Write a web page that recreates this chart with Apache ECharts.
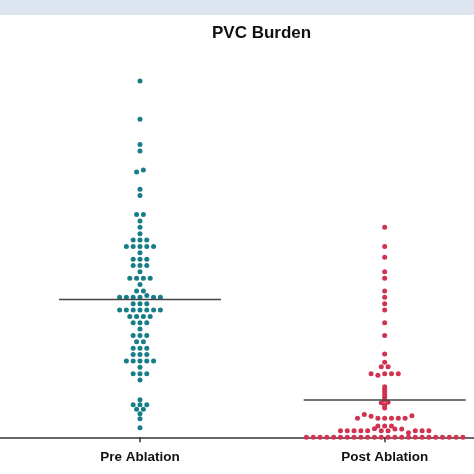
<!DOCTYPE html>
<html>
<head>
<meta charset="utf-8">
<script src="https://cdn.jsdelivr.net/npm/echarts@6/dist/echarts.min.js"></script>
<style>html,body{margin:0;padding:0;background:#fff;}#c{width:474px;height:474px;}</style>
</head>
<body>
<div id="c"></div>
<script>
const TITLE = 'PVC Burden';
const CATEGORIES = ['Pre Ablation', 'Post Ablation'];
// PVC burden values (%), listed row by row, left to right as in the picture
const PRE = [56, 50, 46, 45, 41.7, 42, 39, 38, 35, 35, 34, 33, 32,
  31, 31, 31, 30, 30, 30, 30, 30, 29, 28, 28, 28, 27, 27, 27, 26,
  25, 25, 25, 25, 24, 23, 23, 22, 22, 22, 22, 22.3, 22, 22,
  21, 21, 21, 20, 20, 20, 20, 20, 20, 20, 19, 19, 19, 19, 18, 18, 18, 17,
  16, 16, 16, 15, 15, 14, 14, 14, 13, 13, 13, 12, 12, 12, 12, 12, 11,
  10, 10, 10, 9, 5.9, 5.1, 5.1, 5.1, 4.4, 4.4, 3.7, 2.9, 1.5];
const POST = [33, 30, 28.3, 26, 25, 23, 22, 21, 20, 18, 16, 13.1, 11.8,
  11.1, 11.1, 10, 9.75, 10, 10, 10,
  7.95, 7.54, 7.12, 6.69, 6.29, 5.86, 5.44, 5.5, 5.03, 4.6,
  3.0, 3.6, 3.3, 3.0, 3.0, 3.0, 3.0, 3.0, 3.4,
  1.78, 1.78, 1.78,
  1.04, 1.04, 1.04, 1.04, 1.04, 1.35, 1.04, 1.04, 1.3, 1.3, 0.72, 1.04, 1.04, 1.04,
  0, 0, 0, 0, 0, 0, 0, 0, 0, 0, 0, 0, 0, 0, 0, 0, 0, 0, 0, 0, 0, 0, 0, 0];

const SLOT = 0.0278;      // horizontal spacing of dots (x units)
const ROW_TOL = 0.34;     // values closer than this share a row
const HALF_MEAN = 0.331;  // half width of mean line (x units)

function swarm(values, center) {
  const idx = values.map((v, i) => i).sort((a, b) => values[a] - values[b] || a - b);
  const rows = [];
  let cur = [idx[0]];
  for (let k = 1; k < idx.length; k++) {
    if (values[idx[k]] - values[idx[k - 1]] <= ROW_TOL) cur.push(idx[k]);
    else { rows.push(cur); cur = [idx[k]]; }
  }
  rows.push(cur);
  const out = [];
  rows.forEach(r => {
    r.sort((a, b) => a - b);
    const n = r.length;
    r.forEach((i, j) => out.push([center + (j - (n - 1) / 2) * SLOT, values[i]]));
  });
  return out;
}
const mean = a => a.reduce((s, v) => s + v, 0) / a.length;

const chart = echarts.init(document.getElementById('c'), null, {renderer: 'canvas'});
const preMean = mean(PRE), postMean = mean(POST);
chart.setOption({
  animation: false,
  backgroundColor: '#ffffff',
  title: {
    text: TITLE, left: 212, top: 25, padding: 0,
    textStyle: {fontSize: 17, fontWeight: 'bold', color: '#111', fontFamily: 'Liberation Sans, Arial, sans-serif'}
  },
  graphic: [{type: 'rect', shape: {x: 0, y: 0, width: 474, height: 15}, style: {fill: '#dde6f0'}, silent: true}],
  grid: {left: 0, right: 0, top: 55.5, bottom: 36.7, containLabel: false},
  xAxis: {
    type: 'value', min: 0.428, max: 2.365,
    axisLine: {show: true, lineStyle: {color: '#333', width: 1.5}},
    axisTick: {show: true, customValues: [1, 2], length: 5, lineStyle: {color: '#333', width: 1.5}},
    axisLabel: {
      customValues: [1, 2], margin: 13,
      formatter: v => CATEGORIES[Math.round(v) - 1] || '',
      fontSize: 13.5, fontWeight: 'bold', color: '#111', fontFamily: 'Liberation Sans, Arial, sans-serif'
    },
    splitLine: {show: false}
  },
  yAxis: {type: 'value', min: 0, max: 60, show: false, splitLine: {show: false}},
  series: [
    {type: 'scatter', data: swarm(PRE, 1), symbolSize: 5, clip: false, itemStyle: {color: '#177e89', opacity: 1}, z: 2},
    {type: 'scatter', data: swarm(POST, 2), symbolSize: 5, clip: false, itemStyle: {color: '#cf3350', opacity: 1}, z: 2},
    {type: 'line', data: [[1 - HALF_MEAN, preMean], [1 + HALF_MEAN, preMean]], symbol: 'none', lineStyle: {color: '#444', width: 1.5}, z: 3},
    {type: 'line', data: [[2 - HALF_MEAN, postMean], [2 + HALF_MEAN, postMean]], symbol: 'none', lineStyle: {color: '#444', width: 1.5}, z: 3}
  ]
});
</script>
</body>
</html>
